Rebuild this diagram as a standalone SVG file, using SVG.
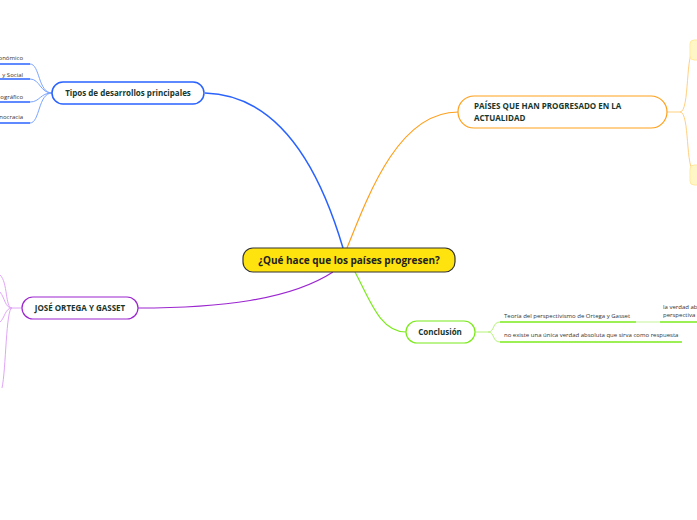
<svg xmlns="http://www.w3.org/2000/svg" width="697" height="520" viewBox="0 0 697 520">
<style>
text{font-family:"Open Sans","Liberation Sans",sans-serif;fill:#17372e}
.b{font-weight:bold;font-size:8px}
.s{font-size:6px;fill:#333}
.c path{fill:none}
</style>
<rect width="697" height="520" fill="#fff"/>
<g class="c" id="connectors">
<path d="M343 248 C320 170 280 95 205 93" stroke="#2962ff" stroke-width="1.5"/>
<path d="M347 248 C370 190 400 112 458 112" stroke="#ff9f1a" stroke-width="1.2"/>
<path d="M333 272 C290 300 220 308 138 308" stroke="#9c27d0" stroke-width="1.2"/>
<path d="M355 272 C370 300 380 332 406 332" stroke="#7bea1b" stroke-width="1.2"/>
<g stroke="#7aa4ff" stroke-width="1"><path d="M52 93 C38 93 40 64 30 64"/><path d="M52 93 C40 93 40 79 30 79"/><path d="M52 93 C40 93 40 102 30 102"/><path d="M52 93 C38 93 40 123 30 123"/></g>
<g stroke="#2962ff" stroke-width="1.5"><path d="M0 64 H30"/><path d="M0 79 H30"/><path d="M0 102 H30"/><path d="M0 123 H30"/></g>
<g stroke="#ffd080" stroke-width="1"><path d="M667 112 H680 C690 112 685 50 695 48"/><path d="M680 112 C690 112 685 170 695 173"/></g>
<g stroke="#e0a6f5" stroke-width="1"><path d="M22 308 H12 C5 308 8 282 0 275"/><path d="M12 308 C5 308 5 298 0 292"/><path d="M12 308 C5 308 5 318 0 322"/><path d="M12 308 C6 308 6 370 2 388"/></g>
<g stroke="#b5f27a" stroke-width="1"><path d="M475 332 H488 C495 332 492 322 500 322"/><path d="M488 332 C495 332 492 342 500 342"/></g>
<g stroke="#7bea1b" stroke-width="1.5"><path d="M500 322 H636"/><path d="M500 342 H682"/><path d="M660 322 H697"/></g>
<path d="M636 322 H660" stroke="#d8f7bb" stroke-width="1.5"/>
</g>
<g id="central"><rect x="243" y="248" width="212" height="24" rx="10" fill="#ffe30f" stroke="#333" stroke-width="1.2"/><text x="349" y="264" text-anchor="middle" font-size="10" font-weight="bold" style="fill:#222">¿Qué hace que los países progresen?</text></g>
<g id="tipos"><rect x="52" y="82" width="152" height="22" rx="11" fill="#fff" stroke="#2962ff" stroke-width="1.5"/><text class="b" x="128" y="96" text-anchor="middle">Tipos de desarrollos principales</text></g>
<g id="paises"><rect x="458" y="96" width="209" height="32" rx="16" fill="#fff" stroke="#ff9f1a" stroke-width="1.2"/><text class="b" x="474" y="109">PAÍSES QUE HAN PROGRESADO EN LA</text><text class="b" x="474" y="121">ACTUALIDAD</text></g>
<g id="jose"><rect x="22" y="297" width="116" height="22" rx="11" fill="#fff" stroke="#9c27d0" stroke-width="1.2"/><text class="b" x="80" y="311" text-anchor="middle">JOSÉ ORTEGA Y GASSET</text></g>
<g id="conclusion"><rect x="406" y="321" width="69" height="22" rx="11" fill="#fff" stroke="#7bea1b" stroke-width="1.2"/><text class="b" x="440" y="335" text-anchor="middle">Conclusión</text></g>
<g id="sub-tipos"><text class="s" x="23" y="60" text-anchor="end">onómico</text><text class="s" x="23" y="77" text-anchor="end">y Social</text><text class="s" x="23" y="99" text-anchor="end">ográfico</text><text class="s" x="23" y="119" text-anchor="end">nocracia</text></g>
<g id="sub-paises"><rect x="690" y="40" width="20" height="20" rx="4" fill="#fff6c8" stroke="#ffe9a0"/><rect x="690" y="165" width="20" height="20" rx="4" fill="#fff6c8" stroke="#ffe9a0"/></g>
<g id="sub-conclusion"><text class="s" x="504" y="318">Teoría del perspectivismo de Ortega y Gasset</text><text class="s" x="663" y="309">la verdad ab</text><text class="s" x="663" y="317">perspectiva</text><text class="s" x="504" y="337">no existe una única verdad absoluta que sirva como respuesta</text></g>
</svg>
